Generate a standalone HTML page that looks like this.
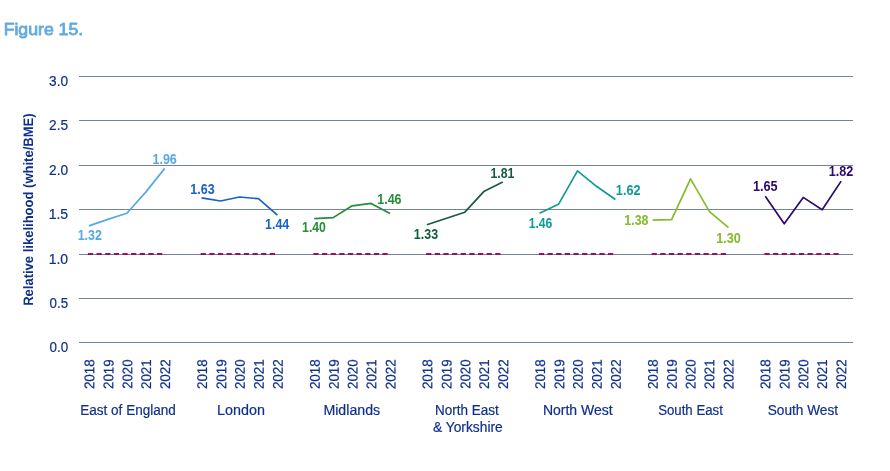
<!DOCTYPE html>
<html lang="en"><head><meta charset="utf-8"><title>Figure 15</title>
<style>
html,body{margin:0;padding:0;background:#fff;}
body{width:890px;height:471px;overflow:hidden;font-family:"Liberation Sans",sans-serif;}
svg{display:block;}
text{font-family:"Liberation Sans",sans-serif;}
.rot{text-rendering:geometricPrecision;}
.ttl{font-size:16.7px;fill:#62A9E1;stroke:#62A9E1;stroke-width:0.8;stroke-linejoin:round;}
.ax{font-size:14px;fill:#10308C;stroke:#10308C;stroke-width:0.2;}
.yt{font-size:13.7px;font-weight:bold;fill:#10308C;}
.dl{font-size:14px;font-weight:bold;}
.grid line{stroke:#76849A;stroke-width:1;shape-rendering:crispEdges;}
.dash line{stroke:#980E60;stroke-width:2;stroke-dasharray:5.2 3.44;}
polyline{fill:none;stroke-width:1.7;stroke-linejoin:round;}
</style></head><body>
<svg width="890" height="471" viewBox="0 0 890 471">
<rect width="890" height="471" fill="#fff"/>

<text id="ttl" class="ttl" x="43.41" y="34.90" text-anchor="middle" textLength="79.57" lengthAdjust="spacingAndGlyphs">Figure 15.</text>
<g class="grid">
<line x1="79" x2="853.1" y1="76.50" y2="76.50"/>
<line x1="79" x2="853.1" y1="120.50" y2="120.50"/>
<line x1="79" x2="853.1" y1="165.50" y2="165.50"/>
<line x1="79" x2="853.1" y1="209.50" y2="209.50"/>
<line x1="79" x2="853.1" y1="254.50" y2="254.50"/>
<line x1="79" x2="853.1" y1="298.50" y2="298.50"/>
<line x1="79" x2="853.1" y1="342.50" y2="342.50"/>
</g>
<text id="y30" class="ax" x="58.55" y="86.00" text-anchor="middle" textLength="19.01" lengthAdjust="spacingAndGlyphs">3.0</text>
<text id="y25" class="ax" x="58.56" y="130.00" text-anchor="middle" textLength="19.10" lengthAdjust="spacingAndGlyphs">2.5</text>
<text id="y20" class="ax" x="58.54" y="175.00" text-anchor="middle" textLength="19.01" lengthAdjust="spacingAndGlyphs">2.0</text>
<text id="y15" class="ax" x="58.41" y="219.00" text-anchor="middle" textLength="19.52" lengthAdjust="spacingAndGlyphs">1.5</text>
<text id="y10" class="ax" x="58.38" y="264.00" text-anchor="middle" textLength="19.47" lengthAdjust="spacingAndGlyphs">1.0</text>
<text id="y5" class="ax" x="58.78" y="308.00" text-anchor="middle" textLength="18.55" lengthAdjust="spacingAndGlyphs">0.5</text>
<text id="y0" class="ax" x="58.83" y="352.00" text-anchor="middle" textLength="18.68" lengthAdjust="spacingAndGlyphs">0.0</text>
<text id="yt" class="yt rot" transform="translate(33.00,209.65) rotate(-89.95)" text-anchor="middle" textLength="192.45" lengthAdjust="spacingAndGlyphs">Relative likelihood (white/BME)</text>
<g class="dash">
<line x1="87.90" x2="162.20" y1="253.9" y2="253.9"/>
<line x1="200.65" x2="274.95" y1="253.9" y2="253.9"/>
<line x1="313.40" x2="387.70" y1="253.9" y2="253.9"/>
<line x1="426.15" x2="500.45" y1="253.9" y2="253.9"/>
<line x1="538.90" x2="613.20" y1="253.9" y2="253.9"/>
<line x1="651.65" x2="725.95" y1="253.9" y2="253.9"/>
<line x1="764.40" x2="838.70" y1="253.9" y2="253.9"/>
</g>
<polyline stroke="#58A9E3" points="88.87,225.90 107.84,219.40 126.81,213.20 145.78,192.10 164.75,168.40"/>
<text id="d00" class="dl" fill="#58A9E3" x="89.75" y="240.00" text-anchor="middle" textLength="24.19" lengthAdjust="spacingAndGlyphs">1.32</text>
<text id="d01" class="dl" fill="#58A9E3" x="164.63" y="164.00" text-anchor="middle" textLength="24.41" lengthAdjust="spacingAndGlyphs">1.96</text>
<polyline stroke="#1862C6" points="201.54,197.90 220.51,201.00 239.48,197.00 258.45,198.70 277.42,215.20"/>
<text id="d10" class="dl" fill="#1862C6" x="202.46" y="194.00" text-anchor="middle" textLength="24.31" lengthAdjust="spacingAndGlyphs">1.63</text>
<text id="d11" class="dl" fill="#1862C6" x="277.18" y="229.00" text-anchor="middle" textLength="24.24" lengthAdjust="spacingAndGlyphs">1.44</text>
<polyline stroke="#258D38" points="314.20,218.60 333.17,217.60 352.14,205.80 371.11,203.40 390.08,213.60"/>
<text id="d20" class="dl" fill="#258D38" x="314.01" y="232.00" text-anchor="middle" textLength="23.78" lengthAdjust="spacingAndGlyphs">1.40</text>
<text id="d21" class="dl" fill="#258D38" x="389.43" y="204.00" text-anchor="middle" textLength="24.20" lengthAdjust="spacingAndGlyphs">1.46</text>
<polyline stroke="#175B3E" points="426.87,224.70 445.84,218.50 464.81,212.20 483.78,191.60 502.75,181.90"/>
<text id="d30" class="dl" fill="#175B3E" x="425.98" y="239.00" text-anchor="middle" textLength="24.29" lengthAdjust="spacingAndGlyphs">1.33</text>
<text id="d31" class="dl" fill="#175B3E" x="502.46" y="178.00" text-anchor="middle" textLength="23.96" lengthAdjust="spacingAndGlyphs">1.81</text>
<polyline stroke="#109B97" points="539.54,213.30 558.51,204.30 577.48,170.80 596.45,186.30 615.42,199.50"/>
<text id="d40" class="dl" fill="#109B97" x="540.56" y="228.00" text-anchor="middle" textLength="23.62" lengthAdjust="spacingAndGlyphs">1.46</text>
<text id="d41" class="dl" fill="#109B97" x="628.18" y="195.00" text-anchor="middle" textLength="24.62" lengthAdjust="spacingAndGlyphs">1.62</text>
<polyline stroke="#85BC2D" points="652.61,220.20 671.58,219.60 690.54,178.80 709.51,211.70 728.49,227.70"/>
<text id="d50" class="dl" fill="#85BC2D" x="636.36" y="225.00" text-anchor="middle" textLength="24.22" lengthAdjust="spacingAndGlyphs">1.38</text>
<text id="d51" class="dl" fill="#85BC2D" x="728.60" y="243.00" text-anchor="middle" textLength="24.67" lengthAdjust="spacingAndGlyphs">1.30</text>
<polyline stroke="#2B0A70" points="765.27,196.20 784.24,223.80 803.21,197.40 822.18,209.70 841.15,181.10"/>
<text id="d60" class="dl" fill="#2B0A70" x="765.23" y="191.00" text-anchor="middle" textLength="24.65" lengthAdjust="spacingAndGlyphs">1.65</text>
<text id="d61" class="dl" fill="#2B0A70" x="841.09" y="176.00" text-anchor="middle" textLength="24.58" lengthAdjust="spacingAndGlyphs">1.82</text>
<text id="yr00" class="ax rot" transform="translate(94.32,374.20) rotate(-89.95)" text-anchor="middle" textLength="29.79" lengthAdjust="spacingAndGlyphs">2018</text>
<text id="yr01" class="ax rot" transform="translate(113.38,374.20) rotate(-89.95)" text-anchor="middle" textLength="29.61" lengthAdjust="spacingAndGlyphs">2019</text>
<text id="yr02" class="ax rot" transform="translate(132.17,374.20) rotate(-89.95)" text-anchor="middle" textLength="29.34" lengthAdjust="spacingAndGlyphs">2020</text>
<text id="yr03" class="ax rot" transform="translate(151.03,374.20) rotate(-89.95)" text-anchor="middle" textLength="29.68" lengthAdjust="spacingAndGlyphs">2021</text>
<text id="yr04" class="ax rot" transform="translate(170.12,374.20) rotate(-89.95)" text-anchor="middle" textLength="29.82" lengthAdjust="spacingAndGlyphs">2022</text>
<text id="n0a" class="ax" x="128.05" y="415.00" text-anchor="middle" textLength="95.71" lengthAdjust="spacingAndGlyphs">East of England</text>
<text id="yr10" class="ax rot" transform="translate(207.03,374.20) rotate(-89.95)" text-anchor="middle" textLength="29.62" lengthAdjust="spacingAndGlyphs">2018</text>
<text id="yr11" class="ax rot" transform="translate(226.18,374.20) rotate(-89.95)" text-anchor="middle" textLength="29.72" lengthAdjust="spacingAndGlyphs">2019</text>
<text id="yr12" class="ax rot" transform="translate(244.83,374.20) rotate(-89.95)" text-anchor="middle" textLength="29.41" lengthAdjust="spacingAndGlyphs">2020</text>
<text id="yr13" class="ax rot" transform="translate(263.74,374.20) rotate(-89.95)" text-anchor="middle" textLength="29.76" lengthAdjust="spacingAndGlyphs">2021</text>
<text id="yr14" class="ax rot" transform="translate(282.70,374.20) rotate(-89.95)" text-anchor="middle" textLength="29.76" lengthAdjust="spacingAndGlyphs">2022</text>
<text id="n1a" class="ax" x="240.93" y="415.00" text-anchor="middle" textLength="47.86" lengthAdjust="spacingAndGlyphs">London</text>
<text id="yr20" class="ax rot" transform="translate(319.79,374.20) rotate(-89.95)" text-anchor="middle" textLength="29.79" lengthAdjust="spacingAndGlyphs">2018</text>
<text id="yr21" class="ax rot" transform="translate(338.80,374.20) rotate(-89.95)" text-anchor="middle" textLength="29.65" lengthAdjust="spacingAndGlyphs">2019</text>
<text id="yr22" class="ax rot" transform="translate(357.59,374.20) rotate(-89.95)" text-anchor="middle" textLength="29.47" lengthAdjust="spacingAndGlyphs">2020</text>
<text id="yr23" class="ax rot" transform="translate(376.25,374.20) rotate(-89.95)" text-anchor="middle" textLength="29.70" lengthAdjust="spacingAndGlyphs">2021</text>
<text id="yr24" class="ax rot" transform="translate(395.53,374.20) rotate(-89.95)" text-anchor="middle" textLength="30.00" lengthAdjust="spacingAndGlyphs">2022</text>
<text id="n2a" class="ax" x="351.81" y="415.00" text-anchor="middle" textLength="56.82" lengthAdjust="spacingAndGlyphs">Midlands</text>
<text id="yr30" class="ax rot" transform="translate(432.33,374.20) rotate(-89.95)" text-anchor="middle" textLength="29.79" lengthAdjust="spacingAndGlyphs">2018</text>
<text id="yr31" class="ax rot" transform="translate(451.39,374.20) rotate(-89.95)" text-anchor="middle" textLength="29.61" lengthAdjust="spacingAndGlyphs">2019</text>
<text id="yr32" class="ax rot" transform="translate(470.18,374.20) rotate(-89.95)" text-anchor="middle" textLength="29.34" lengthAdjust="spacingAndGlyphs">2020</text>
<text id="yr33" class="ax rot" transform="translate(489.03,374.20) rotate(-89.95)" text-anchor="middle" textLength="29.68" lengthAdjust="spacingAndGlyphs">2021</text>
<text id="yr34" class="ax rot" transform="translate(508.13,374.20) rotate(-89.95)" text-anchor="middle" textLength="29.82" lengthAdjust="spacingAndGlyphs">2022</text>
<text id="n3a" class="ax" x="466.95" y="415.00" text-anchor="middle" textLength="63.84" lengthAdjust="spacingAndGlyphs">North East</text>
<text id="n3b" class="ax" x="467.87" y="432.00" text-anchor="middle" textLength="69.73" lengthAdjust="spacingAndGlyphs">&amp; Yorkshire</text>
<text id="yr40" class="ax rot" transform="translate(545.04,374.20) rotate(-89.95)" text-anchor="middle" textLength="29.62" lengthAdjust="spacingAndGlyphs">2018</text>
<text id="yr41" class="ax rot" transform="translate(564.18,374.20) rotate(-89.95)" text-anchor="middle" textLength="29.72" lengthAdjust="spacingAndGlyphs">2019</text>
<text id="yr42" class="ax rot" transform="translate(582.83,374.20) rotate(-89.95)" text-anchor="middle" textLength="29.41" lengthAdjust="spacingAndGlyphs">2020</text>
<text id="yr43" class="ax rot" transform="translate(601.75,374.20) rotate(-89.95)" text-anchor="middle" textLength="29.76" lengthAdjust="spacingAndGlyphs">2021</text>
<text id="yr44" class="ax rot" transform="translate(620.71,374.20) rotate(-89.95)" text-anchor="middle" textLength="29.76" lengthAdjust="spacingAndGlyphs">2022</text>
<text id="n4a" class="ax" x="577.79" y="415.00" text-anchor="middle" textLength="69.77" lengthAdjust="spacingAndGlyphs">North West</text>
<text id="yr50" class="ax rot" transform="translate(657.80,374.20) rotate(-89.95)" text-anchor="middle" textLength="29.79" lengthAdjust="spacingAndGlyphs">2018</text>
<text id="yr51" class="ax rot" transform="translate(676.81,374.20) rotate(-89.95)" text-anchor="middle" textLength="29.65" lengthAdjust="spacingAndGlyphs">2019</text>
<text id="yr52" class="ax rot" transform="translate(695.60,374.20) rotate(-89.95)" text-anchor="middle" textLength="29.47" lengthAdjust="spacingAndGlyphs">2020</text>
<text id="yr53" class="ax rot" transform="translate(714.25,374.20) rotate(-89.95)" text-anchor="middle" textLength="29.70" lengthAdjust="spacingAndGlyphs">2021</text>
<text id="yr54" class="ax rot" transform="translate(733.53,374.20) rotate(-89.95)" text-anchor="middle" textLength="30.00" lengthAdjust="spacingAndGlyphs">2022</text>
<text id="n5a" class="ax" x="690.51" y="415.00" text-anchor="middle" textLength="64.69" lengthAdjust="spacingAndGlyphs">South East</text>
<text id="yr60" class="ax rot" transform="translate(770.33,374.20) rotate(-89.95)" text-anchor="middle" textLength="29.85" lengthAdjust="spacingAndGlyphs">2018</text>
<text id="yr61" class="ax rot" transform="translate(789.39,374.20) rotate(-89.95)" text-anchor="middle" textLength="29.61" lengthAdjust="spacingAndGlyphs">2019</text>
<text id="yr62" class="ax rot" transform="translate(808.19,374.20) rotate(-89.95)" text-anchor="middle" textLength="29.34" lengthAdjust="spacingAndGlyphs">2020</text>
<text id="yr63" class="ax rot" transform="translate(827.04,374.20) rotate(-89.95)" text-anchor="middle" textLength="29.68" lengthAdjust="spacingAndGlyphs">2021</text>
<text id="yr64" class="ax rot" transform="translate(846.13,374.20) rotate(-89.95)" text-anchor="middle" textLength="29.82" lengthAdjust="spacingAndGlyphs">2022</text>
<text id="n6a" class="ax" x="802.92" y="415.00" text-anchor="middle" textLength="70.41" lengthAdjust="spacingAndGlyphs">South West</text>
</svg></body></html>
